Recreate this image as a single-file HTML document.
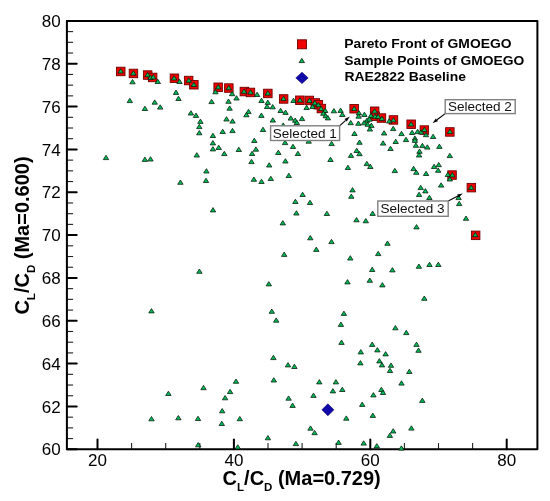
<!DOCTYPE html>
<html><head><meta charset="utf-8"><style>
html,body{margin:0;padding:0;background:#fff;}
svg{display:block;}
text{font-family:"Liberation Sans",Arial,sans-serif;}
</style></head><body>
<svg width="550" height="501" viewBox="0 0 550 501">
<rect width="550" height="501" fill="#fff"/>
<line x1="66.9" y1="449.30" x2="76.70" y2="449.30" stroke="#000" stroke-width="2" stroke-linecap="round"/>
<line x1="66.9" y1="438.59" x2="73.10" y2="438.59" stroke="#222" stroke-width="1.1"/>
<line x1="66.9" y1="427.88" x2="73.10" y2="427.88" stroke="#222" stroke-width="1.1"/>
<line x1="66.9" y1="417.17" x2="73.10" y2="417.17" stroke="#222" stroke-width="1.1"/>
<line x1="66.9" y1="406.46" x2="76.70" y2="406.46" stroke="#000" stroke-width="2" stroke-linecap="round"/>
<line x1="66.9" y1="395.75" x2="73.10" y2="395.75" stroke="#222" stroke-width="1.1"/>
<line x1="66.9" y1="385.04" x2="73.10" y2="385.04" stroke="#222" stroke-width="1.1"/>
<line x1="66.9" y1="374.33" x2="73.10" y2="374.33" stroke="#222" stroke-width="1.1"/>
<line x1="66.9" y1="363.62" x2="76.70" y2="363.62" stroke="#000" stroke-width="2" stroke-linecap="round"/>
<line x1="66.9" y1="352.91" x2="73.10" y2="352.91" stroke="#222" stroke-width="1.1"/>
<line x1="66.9" y1="342.20" x2="73.10" y2="342.20" stroke="#222" stroke-width="1.1"/>
<line x1="66.9" y1="331.49" x2="73.10" y2="331.49" stroke="#222" stroke-width="1.1"/>
<line x1="66.9" y1="320.78" x2="76.70" y2="320.78" stroke="#000" stroke-width="2" stroke-linecap="round"/>
<line x1="66.9" y1="310.07" x2="73.10" y2="310.07" stroke="#222" stroke-width="1.1"/>
<line x1="66.9" y1="299.36" x2="73.10" y2="299.36" stroke="#222" stroke-width="1.1"/>
<line x1="66.9" y1="288.65" x2="73.10" y2="288.65" stroke="#222" stroke-width="1.1"/>
<line x1="66.9" y1="277.94" x2="76.70" y2="277.94" stroke="#000" stroke-width="2" stroke-linecap="round"/>
<line x1="66.9" y1="267.23" x2="73.10" y2="267.23" stroke="#222" stroke-width="1.1"/>
<line x1="66.9" y1="256.52" x2="73.10" y2="256.52" stroke="#222" stroke-width="1.1"/>
<line x1="66.9" y1="245.81" x2="73.10" y2="245.81" stroke="#222" stroke-width="1.1"/>
<line x1="66.9" y1="235.10" x2="76.70" y2="235.10" stroke="#000" stroke-width="2" stroke-linecap="round"/>
<line x1="66.9" y1="224.39" x2="73.10" y2="224.39" stroke="#222" stroke-width="1.1"/>
<line x1="66.9" y1="213.68" x2="73.10" y2="213.68" stroke="#222" stroke-width="1.1"/>
<line x1="66.9" y1="202.97" x2="73.10" y2="202.97" stroke="#222" stroke-width="1.1"/>
<line x1="66.9" y1="192.26" x2="76.70" y2="192.26" stroke="#000" stroke-width="2" stroke-linecap="round"/>
<line x1="66.9" y1="181.55" x2="73.10" y2="181.55" stroke="#222" stroke-width="1.1"/>
<line x1="66.9" y1="170.84" x2="73.10" y2="170.84" stroke="#222" stroke-width="1.1"/>
<line x1="66.9" y1="160.13" x2="73.10" y2="160.13" stroke="#222" stroke-width="1.1"/>
<line x1="66.9" y1="149.42" x2="76.70" y2="149.42" stroke="#000" stroke-width="2" stroke-linecap="round"/>
<line x1="66.9" y1="138.71" x2="73.10" y2="138.71" stroke="#222" stroke-width="1.1"/>
<line x1="66.9" y1="128.00" x2="73.10" y2="128.00" stroke="#222" stroke-width="1.1"/>
<line x1="66.9" y1="117.29" x2="73.10" y2="117.29" stroke="#222" stroke-width="1.1"/>
<line x1="66.9" y1="106.58" x2="76.70" y2="106.58" stroke="#000" stroke-width="2" stroke-linecap="round"/>
<line x1="66.9" y1="95.87" x2="73.10" y2="95.87" stroke="#222" stroke-width="1.1"/>
<line x1="66.9" y1="85.16" x2="73.10" y2="85.16" stroke="#222" stroke-width="1.1"/>
<line x1="66.9" y1="74.45" x2="73.10" y2="74.45" stroke="#222" stroke-width="1.1"/>
<line x1="66.9" y1="63.74" x2="76.70" y2="63.74" stroke="#000" stroke-width="2" stroke-linecap="round"/>
<line x1="66.9" y1="53.03" x2="73.10" y2="53.03" stroke="#222" stroke-width="1.1"/>
<line x1="66.9" y1="42.32" x2="73.10" y2="42.32" stroke="#222" stroke-width="1.1"/>
<line x1="66.9" y1="31.61" x2="73.10" y2="31.61" stroke="#222" stroke-width="1.1"/>
<line x1="66.9" y1="20.90" x2="76.70" y2="20.90" stroke="#000" stroke-width="2" stroke-linecap="round"/>
<line x1="97.50" y1="449.3" x2="97.50" y2="439.50" stroke="#000" stroke-width="2" stroke-linecap="round"/>
<line x1="131.60" y1="449.3" x2="131.60" y2="443.10" stroke="#222" stroke-width="1.1"/>
<line x1="165.70" y1="449.3" x2="165.70" y2="443.10" stroke="#222" stroke-width="1.1"/>
<line x1="199.80" y1="449.3" x2="199.80" y2="443.10" stroke="#222" stroke-width="1.1"/>
<line x1="233.90" y1="449.3" x2="233.90" y2="439.50" stroke="#000" stroke-width="2" stroke-linecap="round"/>
<line x1="268.00" y1="449.3" x2="268.00" y2="443.10" stroke="#222" stroke-width="1.1"/>
<line x1="302.10" y1="449.3" x2="302.10" y2="443.10" stroke="#222" stroke-width="1.1"/>
<line x1="336.20" y1="449.3" x2="336.20" y2="443.10" stroke="#222" stroke-width="1.1"/>
<line x1="370.30" y1="449.3" x2="370.30" y2="439.50" stroke="#000" stroke-width="2" stroke-linecap="round"/>
<line x1="404.40" y1="449.3" x2="404.40" y2="443.10" stroke="#222" stroke-width="1.1"/>
<line x1="438.50" y1="449.3" x2="438.50" y2="443.10" stroke="#222" stroke-width="1.1"/>
<line x1="472.60" y1="449.3" x2="472.60" y2="443.10" stroke="#222" stroke-width="1.1"/>
<line x1="506.70" y1="449.3" x2="506.70" y2="439.50" stroke="#000" stroke-width="2" stroke-linecap="round"/>
<rect x="66.9" y="20.9" width="470.5" height="428.4" fill="none" stroke="#000" stroke-width="2" stroke-linejoin="round"/>
<g font-size="17" fill="#000" text-anchor="end">
<text x="60.6" y="455.4">60</text>
<text x="60.6" y="412.6">62</text>
<text x="60.6" y="369.7">64</text>
<text x="60.6" y="326.9">66</text>
<text x="60.6" y="284.0">68</text>
<text x="60.6" y="241.2">70</text>
<text x="60.6" y="198.4">72</text>
<text x="60.6" y="155.5">74</text>
<text x="60.6" y="112.7">76</text>
<text x="60.6" y="69.8">78</text>
<text x="60.6" y="27.0">80</text>
</g><g font-size="17" fill="#000" text-anchor="middle">
<text x="97.5" y="466.4">20</text>
<text x="233.9" y="466.4">40</text>
<text x="370.3" y="466.4">60</text>
<text x="506.7" y="466.4">80</text>
</g>
<text x="222.6" y="485.2" font-size="20" font-weight="bold">C<tspan font-size="11.5" dy="5.6">L</tspan><tspan dy="-5.6">/C</tspan><tspan font-size="11.5" dy="5.6">D</tspan><tspan dy="-5.6"> (Ma=0.729)</tspan></text>
<text transform="translate(29.2,314.6) rotate(-90)" font-size="20" font-weight="bold">C<tspan font-size="11.5" dy="6">L</tspan><tspan dy="-6">/C</tspan><tspan font-size="11.5" dy="6">D</tspan><tspan dy="-6"> (Ma=0.600)</tspan></text>
<g fill="#f00000" stroke="#700000" stroke-width="0.9">
<rect x="116.5" y="67.2" width="8.5" height="8.5"/>
<rect x="129.2" y="69.2" width="8.5" height="8.5"/>
<rect x="143.4" y="70.8" width="8.5" height="8.5"/>
<rect x="148.4" y="73.2" width="8.5" height="8.5"/>
<rect x="170.2" y="74.0" width="8.5" height="8.5"/>
<rect x="184.4" y="76.3" width="8.5" height="8.5"/>
<rect x="189.6" y="80.5" width="8.5" height="8.5"/>
<rect x="213.9" y="83.0" width="8.5" height="8.5"/>
<rect x="224.6" y="83.8" width="8.5" height="8.5"/>
<rect x="240.1" y="87.3" width="8.5" height="8.5"/>
<rect x="246.2" y="88.2" width="8.5" height="8.5"/>
<rect x="263.6" y="89.2" width="8.5" height="8.5"/>
<rect x="279.4" y="94.7" width="8.5" height="8.5"/>
<rect x="295.6" y="96.0" width="8.5" height="8.5"/>
<rect x="305.1" y="96.2" width="8.5" height="8.5"/>
<rect x="311.1" y="98.7" width="8.5" height="8.5"/>
<rect x="314.1" y="100.5" width="8.5" height="8.5"/>
<rect x="317.1" y="104.3" width="8.5" height="8.5"/>
<rect x="349.9" y="104.5" width="8.5" height="8.5"/>
<rect x="370.4" y="107.0" width="8.5" height="8.5"/>
<rect x="370.9" y="112.0" width="8.5" height="8.5"/>
<rect x="377.2" y="113.8" width="8.5" height="8.5"/>
<rect x="389.2" y="115.7" width="8.5" height="8.5"/>
<rect x="406.9" y="120.0" width="8.5" height="8.5"/>
<rect x="420.1" y="125.8" width="8.5" height="8.5"/>
<rect x="445.6" y="127.7" width="8.5" height="8.5"/>
<rect x="447.8" y="170.8" width="8.5" height="8.5"/>
<rect x="467.1" y="183.4" width="8.5" height="8.5"/>
<rect x="471.4" y="231.1" width="8.5" height="8.5"/>
</g>
<g fill="#00bb55" stroke="#0a2010" stroke-width="0.8" stroke-linejoin="miter">
<polygon points="120.7,68.7 118.0,73.0 123.4,73.0"/>
<polygon points="133.4,70.8 130.7,75.1 136.1,75.1"/>
<polygon points="132.5,79.5 129.8,83.8 135.2,83.8"/>
<polygon points="129.8,98.3 127.1,102.6 132.5,102.6"/>
<polygon points="144.9,106.2 142.2,110.5 147.6,110.5"/>
<polygon points="147.6,72.4 144.9,76.7 150.3,76.7"/>
<polygon points="150.6,75.2 147.9,79.5 153.3,79.5"/>
<polygon points="153.3,74.6 150.6,78.9 156.0,78.9"/>
<polygon points="157.8,79.2 155.1,83.5 160.5,83.5"/>
<polygon points="174.1,75.7 171.4,80.0 176.8,80.0"/>
<polygon points="179.5,79.2 176.8,83.5 182.2,83.5"/>
<polygon points="188.8,77.9 186.1,82.2 191.5,82.2"/>
<polygon points="193.8,82.2 191.1,86.5 196.5,86.5"/>
<polygon points="176.0,90.1 173.3,94.4 178.7,94.4"/>
<polygon points="178.5,96.2 175.8,100.5 181.2,100.5"/>
<polygon points="154.7,99.9 152.0,104.2 157.4,104.2"/>
<polygon points="160.2,104.8 157.5,109.1 162.9,109.1"/>
<polygon points="218.2,84.6 215.5,88.9 220.9,88.9"/>
<polygon points="215.5,89.5 212.8,93.8 218.2,93.8"/>
<polygon points="228.8,85.5 226.1,89.8 231.5,89.8"/>
<polygon points="232.1,91.4 229.4,95.7 234.8,95.7"/>
<polygon points="236.5,95.7 233.8,100.0 239.2,100.0"/>
<polygon points="211.6,99.3 208.9,103.6 214.3,103.6"/>
<polygon points="228.5,99.0 225.8,103.3 231.2,103.3"/>
<polygon points="229.6,105.9 226.9,110.2 232.3,110.2"/>
<polygon points="244.1,89.0 241.4,93.3 246.8,93.3"/>
<polygon points="250.6,89.8 247.9,94.1 253.3,94.1"/>
<polygon points="257.1,92.2 254.4,96.5 259.8,96.5"/>
<polygon points="267.8,90.8 265.1,95.1 270.5,95.1"/>
<polygon points="261.5,98.2 258.8,102.5 264.2,102.5"/>
<polygon points="267.8,100.1 265.1,104.4 270.5,104.4"/>
<polygon points="267.1,104.2 264.4,108.5 269.8,108.5"/>
<polygon points="272.7,104.5 270.0,108.8 275.4,108.8"/>
<polygon points="283.6,96.3 280.9,100.6 286.3,100.6"/>
<polygon points="293.5,98.2 290.8,102.5 296.2,102.5"/>
<polygon points="300.0,97.8 297.3,102.1 302.7,102.1"/>
<polygon points="309.4,98.2 306.7,102.5 312.1,102.5"/>
<polygon points="314.8,100.6 312.1,104.9 317.5,104.9"/>
<polygon points="318.4,102.5 315.7,106.8 321.1,106.8"/>
<polygon points="312.6,104.2 309.9,108.5 315.3,108.5"/>
<polygon points="321.1,106.3 318.4,110.6 323.8,110.6"/>
<polygon points="306.6,105.2 303.9,109.5 309.3,109.5"/>
<polygon points="325.2,108.2 322.5,112.5 327.9,112.5"/>
<polygon points="323.3,111.0 320.6,115.3 326.0,115.3"/>
<polygon points="325.7,113.4 323.0,117.7 328.4,117.7"/>
<polygon points="327.9,115.6 325.2,119.9 330.6,119.9"/>
<polygon points="333.9,108.5 331.2,112.8 336.6,112.8"/>
<polygon points="340.6,108.1 337.9,112.4 343.3,112.4"/>
<polygon points="342.3,112.2 339.6,116.5 345.0,116.5"/>
<polygon points="354.2,106.2 351.5,110.5 356.9,110.5"/>
<polygon points="358.9,110.6 356.2,114.9 361.6,114.9"/>
<polygon points="358.6,113.9 355.9,118.2 361.3,118.2"/>
<polygon points="364.4,112.2 361.7,116.5 367.1,116.5"/>
<polygon points="350.7,120.4 348.0,124.7 353.4,124.7"/>
<polygon points="358.4,121.0 355.7,125.3 361.1,125.3"/>
<polygon points="374.7,108.8 372.0,113.1 377.4,113.1"/>
<polygon points="371.0,113.2 368.3,117.5 373.7,117.5"/>
<polygon points="375.0,114.0 372.3,118.3 377.7,118.3"/>
<polygon points="378.1,114.3 375.4,118.6 380.8,118.6"/>
<polygon points="381.9,116.2 379.2,120.5 384.6,120.5"/>
<polygon points="367.0,118.0 364.3,122.3 369.7,122.3"/>
<polygon points="369.5,116.9 366.8,121.2 372.2,121.2"/>
<polygon points="364.1,120.5 361.4,124.8 366.8,124.8"/>
<polygon points="367.7,122.0 365.0,126.3 370.4,126.3"/>
<polygon points="371.4,123.1 368.7,127.4 374.1,127.4"/>
<polygon points="369.9,126.7 367.2,131.0 372.6,131.0"/>
<polygon points="389.2,118.7 386.5,123.0 391.9,123.0"/>
<polygon points="393.5,117.6 390.8,121.9 396.2,121.9"/>
<polygon points="393.2,126.3 390.5,130.6 395.9,130.6"/>
<polygon points="384.1,130.7 381.4,135.0 386.8,135.0"/>
<polygon points="354.5,131.2 351.8,135.5 357.2,135.5"/>
<polygon points="401.5,131.3 398.8,135.6 404.2,135.6"/>
<polygon points="411.1,121.7 408.4,126.0 413.8,126.0"/>
<polygon points="412.1,130.2 409.4,134.5 414.8,134.5"/>
<polygon points="417.6,129.3 414.9,133.6 420.3,133.6"/>
<polygon points="421.1,129.7 418.4,134.0 423.8,134.0"/>
<polygon points="424.4,127.2 421.7,131.5 427.1,131.5"/>
<polygon points="426.0,132.4 423.3,136.7 428.7,136.7"/>
<polygon points="433.1,134.2 430.4,138.5 435.8,138.5"/>
<polygon points="395.7,139.2 393.0,143.5 398.4,143.5"/>
<polygon points="406.0,137.3 403.3,141.6 408.7,141.6"/>
<polygon points="414.9,135.9 412.2,140.2 417.6,140.2"/>
<polygon points="414.9,138.1 412.2,142.4 417.6,142.4"/>
<polygon points="415.9,143.0 413.2,147.3 418.6,147.3"/>
<polygon points="422.4,143.3 419.7,147.6 425.1,147.6"/>
<polygon points="427.3,144.8 424.6,149.1 430.0,149.1"/>
<polygon points="439.4,144.1 436.7,148.4 442.1,148.4"/>
<polygon points="390.5,146.2 387.8,150.5 393.2,150.5"/>
<polygon points="449.9,129.2 447.2,133.5 452.6,133.5"/>
<polygon points="190.9,110.7 188.2,115.0 193.6,115.0"/>
<polygon points="196.0,113.1 193.3,117.4 198.7,117.4"/>
<polygon points="200.4,119.1 197.7,123.4 203.1,123.4"/>
<polygon points="199.3,124.3 196.6,128.6 202.0,128.6"/>
<polygon points="199.3,130.5 196.6,134.8 202.0,134.8"/>
<polygon points="248.5,109.3 245.8,113.6 251.2,113.6"/>
<polygon points="246.4,112.5 243.7,116.8 249.1,116.8"/>
<polygon points="226.5,116.7 223.8,121.0 229.2,121.0"/>
<polygon points="232.5,118.8 229.8,123.1 235.2,123.1"/>
<polygon points="222.7,129.2 220.0,133.5 225.4,133.5"/>
<polygon points="232.5,128.3 229.8,132.6 235.2,132.6"/>
<polygon points="212.9,133.2 210.2,137.5 215.6,137.5"/>
<polygon points="212.9,140.6 210.2,144.9 215.6,144.9"/>
<polygon points="212.9,146.6 210.2,150.9 215.6,150.9"/>
<polygon points="218.7,145.2 216.0,149.5 221.4,149.5"/>
<polygon points="238.8,147.2 236.1,151.5 241.5,151.5"/>
<polygon points="261.4,113.1 258.7,117.4 264.1,117.4"/>
<polygon points="280.6,108.2 277.9,112.5 283.3,112.5"/>
<polygon points="285.5,110.1 282.8,114.4 288.2,114.4"/>
<polygon points="272.8,117.8 270.1,122.1 275.5,122.1"/>
<polygon points="290.8,115.8 288.1,120.1 293.5,120.1"/>
<polygon points="295.2,118.0 292.5,122.3 297.9,122.3"/>
<polygon points="296.8,120.2 294.1,124.5 299.5,124.5"/>
<polygon points="302.0,116.3 299.3,120.6 304.7,120.6"/>
<polygon points="283.2,122.9 280.5,127.2 285.9,127.2"/>
<polygon points="263.0,127.2 260.3,131.5 265.7,131.5"/>
<polygon points="254.3,138.2 251.6,142.5 257.0,142.5"/>
<polygon points="255.9,146.9 253.2,151.2 258.6,151.2"/>
<polygon points="252.1,151.2 249.4,155.5 254.8,155.5"/>
<polygon points="285.1,140.3 282.4,144.6 287.8,144.6"/>
<polygon points="293.0,144.2 290.3,148.5 295.7,148.5"/>
<polygon points="278.3,150.2 275.6,154.5 281.0,154.5"/>
<polygon points="297.9,151.2 295.2,155.5 300.6,155.5"/>
<polygon points="308.7,138.9 306.0,143.2 311.4,143.2"/>
<polygon points="331.6,141.3 328.9,145.6 334.3,145.6"/>
<polygon points="359.5,140.0 356.8,144.3 362.2,144.3"/>
<polygon points="356.7,148.2 354.0,152.5 359.4,152.5"/>
<polygon points="359.5,151.4 356.8,155.7 362.2,155.7"/>
<polygon points="351.0,153.1 348.3,157.4 353.7,157.4"/>
<polygon points="330.5,157.2 327.8,161.5 333.2,161.5"/>
<polygon points="383.1,140.8 380.4,145.1 385.8,145.1"/>
<polygon points="366.8,161.3 364.1,165.6 369.5,165.6"/>
<polygon points="370.3,164.2 367.6,168.5 373.0,168.5"/>
<polygon points="394.8,168.3 392.1,172.6 397.5,172.6"/>
<polygon points="419.5,149.0 416.8,153.3 422.2,153.3"/>
<polygon points="419.1,152.7 416.4,157.0 421.8,157.0"/>
<polygon points="449.8,153.3 447.1,157.6 452.5,157.6"/>
<polygon points="434.1,164.2 431.4,168.5 436.8,168.5"/>
<polygon points="438.7,162.4 436.0,166.7 441.4,166.7"/>
<polygon points="438.2,168.0 435.5,172.3 440.9,172.3"/>
<polygon points="413.6,166.3 410.9,170.6 416.3,170.6"/>
<polygon points="416.3,170.0 413.6,174.3 419.0,174.3"/>
<polygon points="426.1,171.2 423.4,175.5 428.8,175.5"/>
<polygon points="447.9,172.2 445.2,176.5 450.6,176.5"/>
<polygon points="452.3,172.6 449.6,176.9 455.0,176.9"/>
<polygon points="449.8,176.7 447.1,181.0 452.5,181.0"/>
<polygon points="471.2,185.1 468.5,189.4 473.9,189.4"/>
<polygon points="441.1,182.8 438.4,187.1 443.8,187.1"/>
<polygon points="420.7,185.3 418.0,189.6 423.4,189.6"/>
<polygon points="425.4,188.6 422.7,192.9 428.1,192.9"/>
<polygon points="419.1,192.2 416.4,196.5 421.8,196.5"/>
<polygon points="429.4,195.2 426.7,199.5 432.1,199.5"/>
<polygon points="458.6,195.3 455.9,199.6 461.3,199.6"/>
<polygon points="459.2,201.3 456.5,205.6 461.9,205.6"/>
<polygon points="466.0,216.0 463.3,220.3 468.7,220.3"/>
<polygon points="372.6,211.1 369.9,215.4 375.3,215.4"/>
<polygon points="416.5,224.6 413.8,228.9 419.2,228.9"/>
<polygon points="475.3,232.4 472.6,236.7 478.0,236.7"/>
<polygon points="387.5,241.0 384.8,245.3 390.2,245.3"/>
<polygon points="106.0,155.3 103.3,159.6 108.7,159.6"/>
<polygon points="144.9,157.1 142.2,161.4 147.6,161.4"/>
<polygon points="150.5,156.7 147.8,161.0 153.2,161.0"/>
<polygon points="180.4,180.0 177.7,184.3 183.1,184.3"/>
<polygon points="196.8,152.7 194.1,157.0 199.5,157.0"/>
<polygon points="224.3,151.3 221.6,155.6 227.0,155.6"/>
<polygon points="251.5,159.3 248.8,163.6 254.2,163.6"/>
<polygon points="269.2,162.7 266.5,167.0 271.9,167.0"/>
<polygon points="285.4,158.7 282.7,163.0 288.1,163.0"/>
<polygon points="206.4,168.7 203.7,173.0 209.1,173.0"/>
<polygon points="206.0,178.2 203.3,182.5 208.7,182.5"/>
<polygon points="253.9,177.0 251.2,181.3 256.6,181.3"/>
<polygon points="261.5,179.2 258.8,183.5 264.2,183.5"/>
<polygon points="270.8,176.2 268.1,180.5 273.5,180.5"/>
<polygon points="288.8,173.2 286.1,177.5 291.5,177.5"/>
<polygon points="213.0,207.6 210.3,211.9 215.7,211.9"/>
<polygon points="282.8,220.6 280.1,224.9 285.5,224.9"/>
<polygon points="347.9,165.2 345.2,169.5 350.6,169.5"/>
<polygon points="352.5,187.6 349.8,191.9 355.2,191.9"/>
<polygon points="351.3,194.0 348.6,198.3 354.0,198.3"/>
<polygon points="302.6,192.2 299.9,196.5 305.3,196.5"/>
<polygon points="295.4,199.2 292.7,203.5 298.1,203.5"/>
<polygon points="310.0,200.2 307.3,204.5 312.7,204.5"/>
<polygon points="296.4,210.7 293.7,215.0 299.1,215.0"/>
<polygon points="326.9,211.2 324.2,215.5 329.6,215.5"/>
<polygon points="356.5,217.5 353.8,221.8 359.2,221.8"/>
<polygon points="365.8,218.5 363.1,222.8 368.5,222.8"/>
<polygon points="310.3,235.5 307.6,239.8 313.0,239.8"/>
<polygon points="151.5,308.6 148.8,312.9 154.2,312.9"/>
<polygon points="199.4,269.0 196.7,273.3 202.1,273.3"/>
<polygon points="284.2,252.1 281.5,256.4 286.9,256.4"/>
<polygon points="268.8,281.6 266.1,285.9 271.5,285.9"/>
<polygon points="271.8,309.0 269.1,313.3 274.5,313.3"/>
<polygon points="276.2,317.9 273.5,322.2 278.9,322.2"/>
<polygon points="331.5,239.3 328.8,243.6 334.2,243.6"/>
<polygon points="316.3,247.1 313.6,251.4 319.0,251.4"/>
<polygon points="350.3,255.7 347.6,260.0 353.0,260.0"/>
<polygon points="378.2,251.3 375.5,255.6 380.9,255.6"/>
<polygon points="372.2,267.2 369.5,271.5 374.9,271.5"/>
<polygon points="347.5,279.6 344.8,283.9 350.2,283.9"/>
<polygon points="369.8,278.0 367.1,282.3 372.5,282.3"/>
<polygon points="382.4,282.6 379.7,286.9 385.1,286.9"/>
<polygon points="343.9,311.1 341.2,315.4 346.6,315.4"/>
<polygon points="340.9,322.1 338.2,326.4 343.6,326.4"/>
<polygon points="392.4,267.6 389.7,271.9 395.1,271.9"/>
<polygon points="418.9,264.0 416.2,268.3 421.6,268.3"/>
<polygon points="429.5,262.2 426.8,266.5 432.2,266.5"/>
<polygon points="438.3,262.2 435.6,266.5 441.0,266.5"/>
<polygon points="424.3,296.0 421.6,300.3 427.0,300.3"/>
<polygon points="395.4,325.5 392.7,329.8 398.1,329.8"/>
<polygon points="168.4,391.2 165.7,395.5 171.1,395.5"/>
<polygon points="151.5,416.5 148.8,420.8 154.2,420.8"/>
<polygon points="178.4,415.5 175.7,419.8 181.1,419.8"/>
<polygon points="273.4,355.3 270.7,359.6 276.1,359.6"/>
<polygon points="273.8,377.7 271.1,382.0 276.5,382.0"/>
<polygon points="236.0,379.0 233.3,383.3 238.7,383.3"/>
<polygon points="203.5,385.4 200.8,389.7 206.2,389.7"/>
<polygon points="230.1,389.3 227.4,393.6 232.8,393.6"/>
<polygon points="225.1,395.5 222.4,399.8 227.8,399.8"/>
<polygon points="222.2,408.5 219.5,412.8 224.9,412.8"/>
<polygon points="198.0,416.2 195.3,420.5 200.7,420.5"/>
<polygon points="239.8,416.4 237.1,420.7 242.5,420.7"/>
<polygon points="221.8,421.2 219.1,425.5 224.5,425.5"/>
<polygon points="198.2,442.5 195.5,446.8 200.9,446.8"/>
<polygon points="237.8,444.7 235.1,449.0 240.5,449.0"/>
<polygon points="267.9,435.5 265.2,439.8 270.6,439.8"/>
<polygon points="341.5,340.1 338.8,344.4 344.2,344.4"/>
<polygon points="372.2,342.1 369.5,346.4 374.9,346.4"/>
<polygon points="360.8,349.6 358.1,353.9 363.5,353.9"/>
<polygon points="360.4,360.6 357.7,364.9 363.1,364.9"/>
<polygon points="288.0,362.6 285.3,366.9 290.7,366.9"/>
<polygon points="294.4,364.2 291.7,368.5 297.1,368.5"/>
<polygon points="319.3,379.6 316.6,383.9 322.0,383.9"/>
<polygon points="335.9,379.6 333.2,383.9 338.6,383.9"/>
<polygon points="332.9,388.6 330.2,392.9 335.6,392.9"/>
<polygon points="342.3,387.2 339.6,391.5 345.0,391.5"/>
<polygon points="313.5,393.1 310.8,397.4 316.2,397.4"/>
<polygon points="288.6,395.9 285.9,400.2 291.3,400.2"/>
<polygon points="292.6,403.1 289.9,407.4 295.3,407.4"/>
<polygon points="362.2,402.1 359.5,406.4 364.9,406.4"/>
<polygon points="373.4,392.6 370.7,396.9 376.1,396.9"/>
<polygon points="372.8,413.1 370.1,417.4 375.5,417.4"/>
<polygon points="346.3,415.9 343.6,420.2 349.0,420.2"/>
<polygon points="406.3,330.3 403.6,334.6 409.0,334.6"/>
<polygon points="377.4,347.6 374.7,351.9 380.1,351.9"/>
<polygon points="385.6,351.6 382.9,355.9 388.3,355.9"/>
<polygon points="416.5,342.1 413.8,346.4 419.2,346.4"/>
<polygon points="418.5,348.0 415.8,352.3 421.2,352.3"/>
<polygon points="379.4,358.6 376.7,362.9 382.1,362.9"/>
<polygon points="382.0,362.6 379.3,366.9 384.7,366.9"/>
<polygon points="391.0,363.0 388.3,367.3 393.7,367.3"/>
<polygon points="390.0,368.2 387.3,372.5 392.7,372.5"/>
<polygon points="409.3,369.2 406.6,373.5 412.0,373.5"/>
<polygon points="401.5,380.8 398.8,385.1 404.2,385.1"/>
<polygon points="381.4,387.2 378.7,391.5 384.1,391.5"/>
<polygon points="383.0,390.2 380.3,394.5 385.7,394.5"/>
<polygon points="422.3,398.1 419.6,402.4 425.0,402.4"/>
<polygon points="310.5,425.9 307.8,430.2 313.2,430.2"/>
<polygon points="314.6,430.4 311.9,434.7 317.3,434.7"/>
<polygon points="295.9,441.3 293.2,445.6 298.6,445.6"/>
<polygon points="338.6,440.1 335.9,444.4 341.3,444.4"/>
<polygon points="363.7,440.8 361.0,445.1 366.4,445.1"/>
<polygon points="411.4,425.8 408.7,430.1 414.1,430.1"/>
<polygon points="393.2,428.7 390.5,433.0 395.9,433.0"/>
<polygon points="389.9,433.1 387.2,437.4 392.6,437.4"/>
<polygon points="376.8,443.6 374.1,447.9 379.5,447.9"/>
<polygon points="401.4,445.8 398.7,450.1 404.1,450.1"/>
</g>
<polygon points="327.9,403.8 333.9,409.8 327.9,415.8 321.9,409.8" fill="#1008a8" stroke="#08046a" stroke-width="0.6"/>
<rect x="297.5" y="39.8" width="9" height="9" fill="#f00000" stroke="#700000" stroke-width="0.9"/>
<g fill="#00bb55" stroke="#0a2010" stroke-width="0.8"><polygon points="301.8,58.3 299.1,62.6 304.5,62.6"/></g>
<polygon points="302,72.2 308.2,77.9 302,83.6 295.8,77.9" fill="#1008a8" stroke="#08046a" stroke-width="0.6"/>
<g font-size="13.3" font-weight="bold" fill="#000">
<text x="344.3" y="48.3" textLength="167.2" lengthAdjust="spacingAndGlyphs">Pareto Front of GMOEGO</text>
<text x="344.3" y="64.9" textLength="179.9" lengthAdjust="spacingAndGlyphs">Sample Points of GMOEGO</text>
<text x="344.5" y="81.3" textLength="121.4" lengthAdjust="spacingAndGlyphs">RAE2822 Baseline</text>
</g>
<line x1="339.6" y1="125.8" x2="345.6" y2="120.3" stroke="#000" stroke-width="1.1"/><polygon points="349.7,116.6 346.8,121.6 344.5,119.0" fill="#000"/>
<rect x="270.6" y="125.8" width="69.0" height="14.7" fill="#fff" stroke="#808080" stroke-width="1.4"/><text x="272.8" y="137.8" font-size="13" fill="#111" textLength="64" lengthAdjust="spacingAndGlyphs">Selected 1</text>
<line x1="445.2" y1="113.6" x2="437.0" y2="119.8" stroke="#000" stroke-width="1.1"/><polygon points="432.6,123.1 435.9,118.4 438.0,121.2" fill="#000"/>
<rect x="445.2" y="99.7" width="70.0" height="13.9" fill="#fff" stroke="#808080" stroke-width="1.4"/><text x="447.9" y="110.6" font-size="13" fill="#111" textLength="64" lengthAdjust="spacingAndGlyphs">Selected 2</text>
<line x1="448.2" y1="201.0" x2="457.9" y2="196.1" stroke="#000" stroke-width="1.1"/><polygon points="462.8,193.6 458.7,197.6 457.1,194.5" fill="#000"/>
<rect x="377.8" y="201.0" width="70.4" height="15.3" fill="#fff" stroke="#808080" stroke-width="1.4"/><text x="380.5" y="213.2" font-size="13" fill="#111" textLength="64" lengthAdjust="spacingAndGlyphs">Selected 3</text>
</svg></body></html>
